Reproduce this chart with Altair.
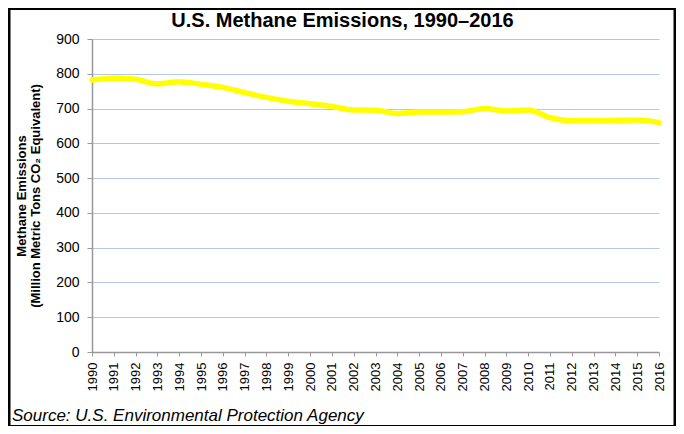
import altair as alt
import pandas as pd

years = list(range(1990, 2017))
emissions = [782, 787, 784, 771, 777, 770, 761, 746, 732, 721, 714, 706, 696, 695,
             686, 690, 690, 691, 700, 693, 696, 674, 665, 665, 666, 667, 660]
y_ticks = [0, 100, 200, 300, 400, 500, 600, 700, 800, 900]
title_text = "U.S. Methane Emissions, 1990\u20132016"
source_text = "Source: U.S. Environmental Protection Agency"

df = pd.DataFrame({"year": years, "value": emissions})
one = pd.DataFrame({"k": [0]})

FONT = "Liberation Sans"

line = alt.Chart(df).mark_line(
    color="#FFFF00", strokeWidth=5.5, interpolate="monotone", strokeCap="round"
).encode(
    x=alt.X(
        "year:Q",
        scale=alt.Scale(domain=[1990, 2016], nice=False, zero=False),
        axis=alt.Axis(
            values=years, format="d", labelAngle=270, labelAlign="right",
            labelBaseline="middle", labelFontSize=13, labelColor="#000000",
            labelPadding=6, tickSize=4, tickColor="#999999", domainColor="#999999",
            domainWidth=1.5, grid=False, title=None,
        ),
    ),
    y=alt.Y(
        "value:Q",
        scale=alt.Scale(domain=[0, 900], nice=False),
        axis=alt.Axis(
            values=y_ticks, labelFontSize=14, labelColor="#000000", labelPadding=8,
            tickSize=5, tickColor="#999999", domainColor="#999999", domainWidth=1.5,
            gridColor="#B4C7E7", gridWidth=1.2,
            title=["Methane Emissions", "(Million Metric Tons CO\u2082 Equivalent)"],
            titleFont=FONT, titleFontWeight="bold", titleFontSize=13,
            titleColor="#000000", titlePadding=13, titleLineHeight=14,
        ),
    ),
)

title = alt.Chart(one).mark_text(
    font=FONT, fontSize=20, fontWeight="bold", color="#000000",
    align="center", baseline="alphabetic",
).encode(x=alt.value(250.5), y=alt.value(-12.5), text=alt.value(title_text))

source = alt.Chart(one).mark_text(
    font=FONT, fontSize=17, fontStyle="italic", color="#000000",
    align="left", baseline="alphabetic",
).encode(x=alt.value(-80), y=alt.value(382), text=alt.value(source_text))

frame = alt.Chart(one).mark_rect(
    filled=False, stroke="#000000", strokeWidth=3
).encode(
    x=alt.value(-83), x2=alt.value(566 + 17),
    y=alt.value(-30.5), y2=alt.value(387.5),
)

chart = alt.layer(line, title, source, frame).properties(
    width=567, height=313,
    autosize=alt.AutoSizeParams(type="none"),
    padding={"left": 84, "top": 31, "right": 17, "bottom": 74},
).configure(font=FONT).configure_view(stroke=None).configure_axis(
    labelFont=FONT, titleFont=FONT
)

chart.save("out.html", embed_options={"renderer": "svg", "actions": False})
